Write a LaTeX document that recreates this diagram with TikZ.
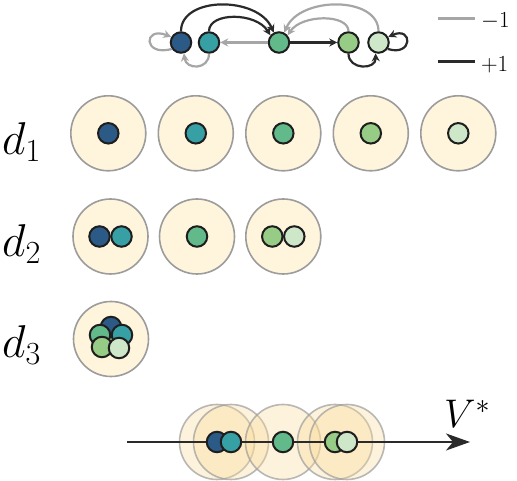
\RequirePackage{fix-cm}
\documentclass[tikz,border=0pt]{standalone}
\usetikzlibrary{arrows.meta}
\definecolor{cA}{HTML}{2C5A87}
\definecolor{cB}{HTML}{36A0A5}
\definecolor{cC}{HTML}{62BA8B}
\definecolor{cD}{HTML}{97CC86}
\definecolor{cE}{HTML}{CFE7C9}
\definecolor{ringfill}{HTML}{FFF5DD}
\definecolor{ringline}{HTML}{9C9C9C}
\definecolor{gline}{HTML}{A6A6A6}
\definecolor{bline}{HTML}{2A2A2A}
\definecolor{dotline}{HTML}{1E1E1E}
\definecolor{warm}{HTML}{F9DB99}
\begin{document}
\begin{tikzpicture}[x=1pt,y=1pt,
 dot/.style={circle,draw=dotline,line width=2pt,minimum size=20.5pt,inner sep=0pt},
 ring/.style={circle,draw=ringline,fill=ringfill,line width=1.6pt,minimum size=75pt,inner sep=0pt},
 bring/.style={circle,draw=ringline,draw opacity=0.7,fill=warm,fill opacity=0.35,line width=1.6pt,minimum size=75pt,inner sep=0pt},
 garr/.style={draw=gline,line width=2.2pt,-{Stealth[length=8pt,width=8pt]}},
 barr/.style={draw=bline,line width=2.2pt,-{Stealth[length=8pt,width=8pt]}},
 lbl/.style={font=\fontsize{46}{50}\selectfont,inner sep=0pt,anchor=base west},
 legtext/.style={inner sep=0pt,anchor=base west},
]
\useasboundingbox (0,0) rectangle (517,481);

% ---- top graph ----
\node[dot,fill=cA] (n1) at (181,438.5) {};
\node[dot,fill=cB] (n2) at (209,438.5) {};
\node[dot,fill=cC] (n3) at (279,438.5) {};
\node[dot,fill=cD] (n4) at (348.5,438.5) {};
\node[dot,fill=cE] (n5) at (378.5,438.5) {};

\draw[barr] (n1.90) .. controls (181,485) and (258,485) .. (n3.118);
\draw[barr] (n2.90) .. controls (209,469) and (256,469) .. (n3.140);
\draw[garr] (n5.90) .. controls (378.5,485) and (300,485) .. (n3.62);
\draw[garr] (n4.90) .. controls (348.5,467) and (302,467) .. (n3.40);
\draw[garr] (n3) -- (n2);
\draw[barr] (n3) -- (n4);
\draw[garr] (n1.215) .. controls (143,424) and (143,455) .. (n1.150);
\draw[barr] (n5.325) .. controls (413,424) and (413,455) .. (n5.30);
\draw[garr] (n2.270) .. controls (209,411) and (186,411) .. (n1.285);
\draw[barr] (n4.270) .. controls (348.5,411) and (376,411) .. (n5.255);

% legend
\coordinate (gl0) at (438,462);
\coordinate (gl1) at (475,462);
\coordinate (bl0) at (438,419);
\coordinate (bl1) at (475,419);
\draw[gline,line width=3pt] (gl0) -- (gl1);
\draw[bline,line width=3pt] (bl0) -- (bl1);
\node[legtext] (lm) at (481,453) {\fontsize{23}{27}\selectfont$-1$};
\node[legtext] (lp) at (481,409) {\fontsize{23}{27}\selectfont$+1$};

% ---- d1 ----
\node[lbl] (d1) at (2,326) {$d_1$};
\node[ring] (r11) at (108.3,347.7) {};
\node[ring] (r12) at (195.8,347.7) {};
\node[ring] (r13) at (283.3,347.7) {};
\node[ring] (r14) at (370.8,347.7) {};
\node[ring] (r15) at (458.3,347.7) {};
\node[dot,fill=cA] at (r11) {};
\node[dot,fill=cB] at (r12) {};
\node[dot,fill=cC] at (r13) {};
\node[dot,fill=cD] at (r14) {};
\node[dot,fill=cE] at (r15) {};

% ---- d2 ----
\node[lbl] (d2) at (2,224) {$d_2$};
\node[ring] (r21) at (110.5,244.5) {};
\node[ring] (r22) at (197,244.5) {};
\node[ring] (r23) at (283.3,244.5) {};
\node[dot,fill=cA] at ([xshift=-11pt]r21) {};
\node[dot,fill=cB] at ([xshift=11pt]r21) {};
\node[dot,fill=cC] at (r22) {};
\node[dot,fill=cD] at ([xshift=-11pt]r23) {};
\node[dot,fill=cE] at ([xshift=11pt]r23) {};

% ---- d3 ----
\node[lbl] (d3) at (2,123) {$d_3$};
\node[ring] (r31) at (111,142) {};
\node[dot,fill=cA] at ([shift={(0,12)}]r31) {};
\node[dot,fill=cC] at ([shift={(-11,4)}]r31) {};
\node[dot,fill=cB] at ([shift={(11,4)}]r31) {};
\node[dot,fill=cD] at ([shift={(-9,-8)}]r31) {};
\node[dot,fill=cE] at ([shift={(8,-9)}]r31) {};

% ---- bottom axis ----
\node[bring] (b1) at (217,39) {};
\node[bring] (b2) at (231,39) {};
\node[bring] (b3) at (283,39) {};
\node[bring] (b4) at (335,39) {};
\node[bring] (b5) at (347,39) {};
\coordinate (a0) at (127,39);
\coordinate (a1) at (470,39);
\draw[bline,line width=2pt,-{Stealth[length=24pt,width=17pt,inset=7pt]}] (a0) -- (a1);
\node[dot,fill=cA] (s1) at (b1) {};
\node[dot,fill=cB] (s2) at (b2) {};
\node[dot,fill=cC] (s3) at (b3) {};
\node[dot,fill=cD] (s4) at (b4) {};
\node[dot,fill=cE] (s5) at (b5) {};
\node[inner sep=0pt,anchor=base west,font=\fontsize{40}{44}\selectfont] (vs) at (444,53) {$V^*$};
\end{tikzpicture}
\end{document}
